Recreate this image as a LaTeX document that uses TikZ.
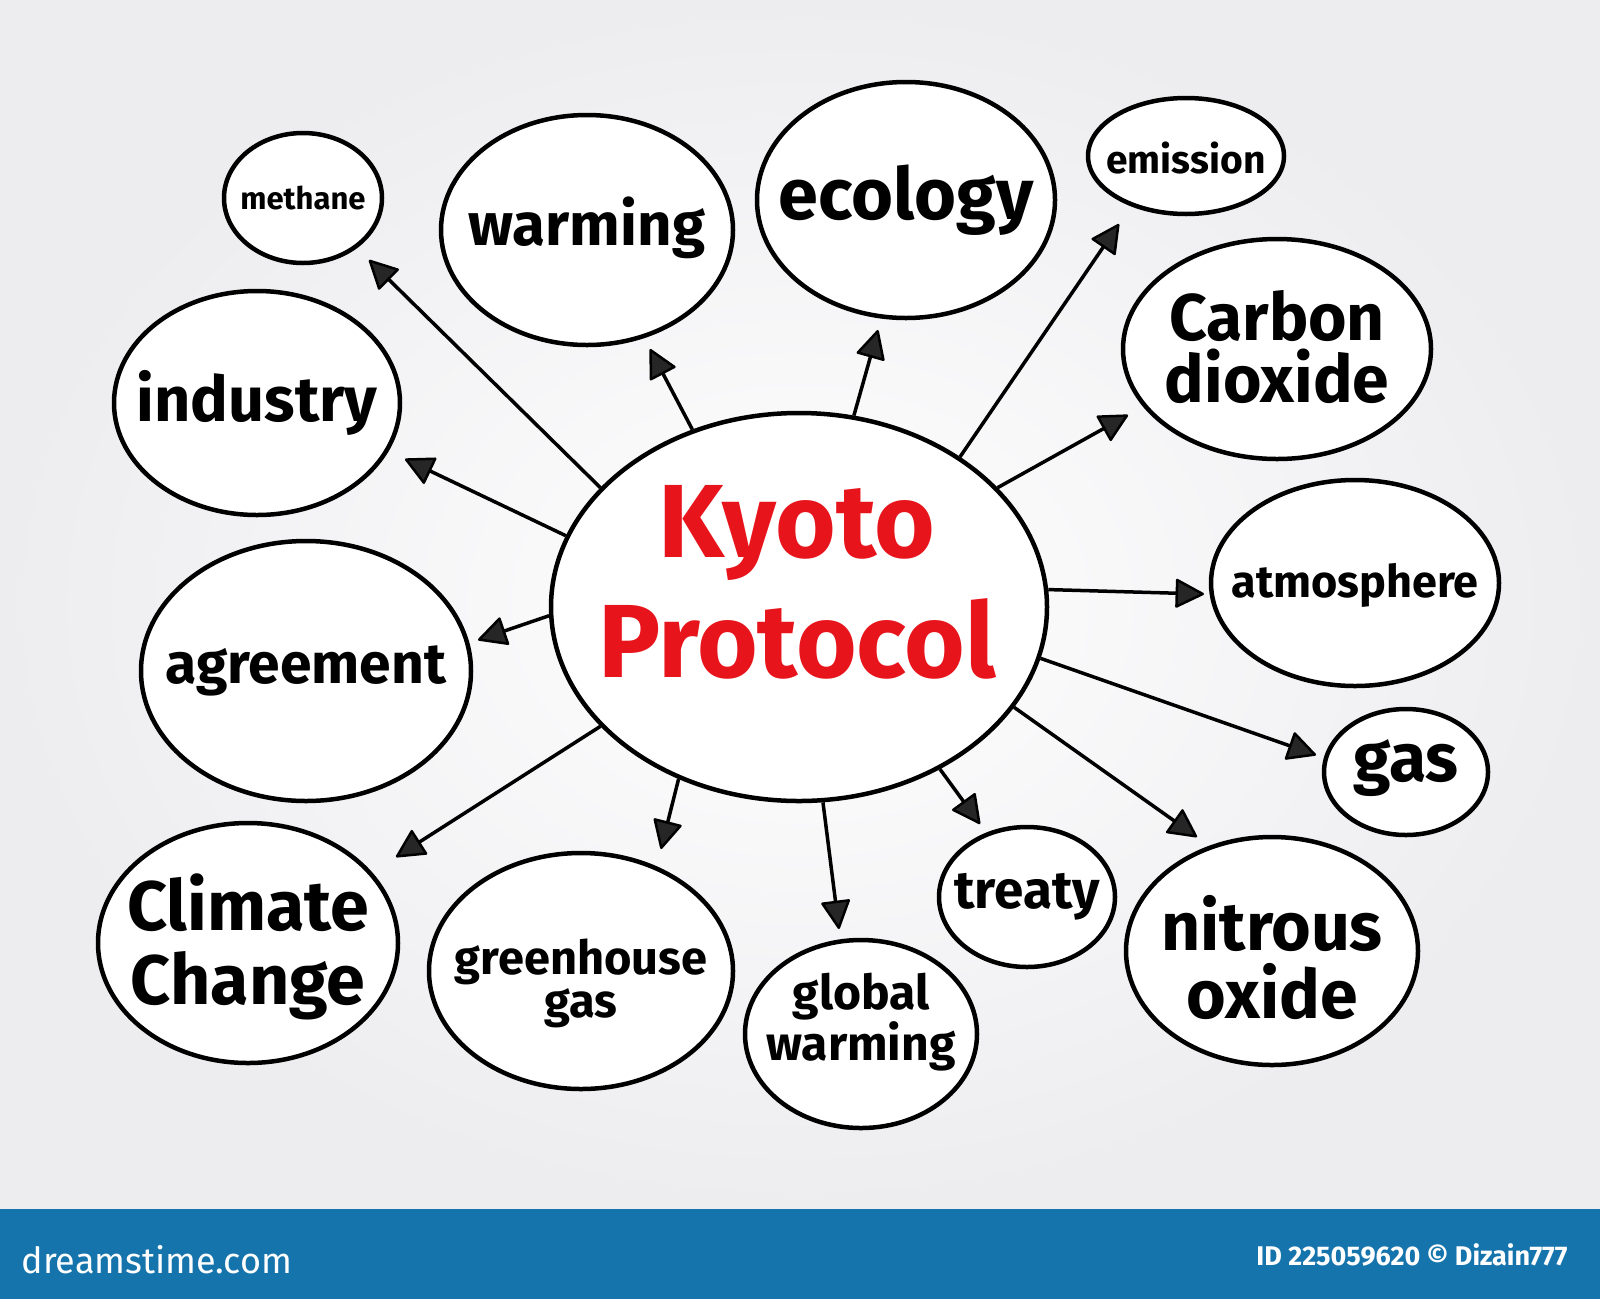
\documentclass[tikz,border=0pt]{standalone}
\usepackage{fontspec}
\setmainfont{Fira Sans}
\usetikzlibrary{shapes.geometric,arrows.meta}
\definecolor{kyred}{HTML}{E8141B}
\definecolor{barblue}{HTML}{1674AD}
\definecolor{bggray}{HTML}{EDEDF0}
\newcommand{\fsz}[2]{\fontsize{#1}{#2}\selectfont}
\begin{document}
\begin{tikzpicture}[x=1pt,y=-1pt,
  bubble/.style={ellipse, draw=black, line width=4.5pt, fill=white, inner sep=0pt},
  txt/.style={align=center, inner sep=0pt},
  arr/.style={line width=3.5pt, -{Triangle[length=30pt,width=30pt,fill=black!85,line width=2.5pt,round]}}]
\useasboundingbox (0,0) rectangle (1600,1299);
\shade[inner color=white, outer color=bggray] (0,0) rectangle (1600,1209);
\fill[barblue] (0,1209) rectangle (1600,1299);

% central node
\node[bubble, minimum width=496pt, minimum height=388pt] (kp) at (799,607) {};
\node[txt, text=kyred, font=\bfseries\fsz{104}{120}] (kptext) at (797,582) {Kyoto\\Protocol};

% outer bubbles
\node[bubble, minimum width=158pt, minimum height=130pt] (methane) at (303,198) {};
\node[bubble, minimum width=292pt, minimum height=230pt] (warming) at (587,230) {};
\node[bubble, minimum width=298pt, minimum height=236pt] (ecology) at (906,200) {};
\node[bubble, minimum width=196pt, minimum height=116pt] (emission) at (1186,156) {};
\node[bubble, minimum width=308pt, minimum height=220pt] (carbon) at (1277,349) {};
\node[bubble, minimum width=286pt, minimum height=224pt] (industry) at (257,403) {};
\node[bubble, minimum width=288pt, minimum height=206pt] (atmosphere) at (1355,583) {};
\node[bubble, minimum width=330pt, minimum height=260pt] (agreement) at (306,671) {};
\node[bubble, minimum width=164pt, minimum height=126pt] (gas) at (1406,772) {};
\node[bubble, minimum width=300pt, minimum height=240pt] (climate) at (248,943) {};
\node[bubble, minimum width=304pt, minimum height=236pt] (greenhouse) at (581,971) {};
\node[bubble, minimum width=232pt, minimum height=188pt] (global) at (861,1034) {};
\node[bubble, minimum width=176pt, minimum height=140pt] (treaty) at (1027,897) {};
\node[bubble, minimum width=292pt, minimum height=228pt] (nitrous) at (1272,951) {};

% texts
\node[txt, font=\bfseries\fsz{31}{36}] (methane-t) at (303,198) {methane};
\node[txt, font=\bfseries\fsz{60}{66}] (warming-t) at (587,228) {warming};
\node[txt, font=\bfseries\fsz{72}{80}] (ecology-t) at (906,200) {ecology};
\node[txt, font=\bfseries\fsz{39}{44}] (emission-t) at (1186,158) {emission};
\node[txt, font=\bfseries\fsz{66}{62}] (carbon-t) at (1277,347) {Carbon\\dioxide};
\node[txt, font=\bfseries\fsz{63}{70}] (industry-t) at (257,403) {industry};
\node[txt, font=\bfseries\fsz{45}{50}] (atmosphere-t) at (1355,585) {atmosphere};
\node[txt, font=\bfseries\fsz{57}{64}] (agreement-t) at (306,671) {agreement};
\node[txt, font=\bfseries\fsz{68}{74}] (gas-t) at (1406,768) {gas};
\node[txt, font=\bfseries\fsz{70}{74}] (climate-t) at (248,947) {Climate\\Change};
\node[txt, font=\bfseries\fsz{47}{43}] (greenhouse-t) at (581,983) {greenhouse\\gas};
\node[txt, font=\bfseries\fsz{48}{48}] (global-t) at (861,1022) {global\\warming};
\node[txt, font=\bfseries\fsz{53}{58}] (treaty-t) at (1027,897) {treaty};
\node[txt, font=\bfseries\fsz{68}{68}] (nitrous-t) at (1272,957) {nitrous\\oxide};

% arrow tips
\coordinate (tmethane) at (369,260);
\coordinate (tindustry) at (405,459);
\coordinate (tagreement) at (478,640);
\coordinate (tclimate) at (396,857);
\coordinate (tgreenhouse) at (661,849);
\coordinate (tglobal) at (839,929);
\coordinate (ttreaty) at (980,824);
\coordinate (tnitrous) at (1197,837);
\coordinate (tgas) at (1316,755);
\coordinate (tatmosphere) at (1204,594);
\coordinate (tcarbon) at (1128,415);
\coordinate (temission) at (1119,224);
\coordinate (tecology) at (878,330);
\coordinate (twarming) at (650,349);

\draw[arr] (kp.149) -- (tmethane);
\draw[arr] (kp.163) -- (tindustry);
\draw[arr] (kp.182) -- (tagreement);
\draw[arr] (kp.211) -- (tclimate);
\draw[arr] (kp.235) -- (tgreenhouse);
\draw[arr] (kp.277) -- (tglobal);
\draw[arr] (kp.311) -- (ttreaty);
\draw[arr] (kp.335) -- (tnitrous);
\draw[arr] (kp.348) -- (tgas);
\draw[arr] (kp.4) -- (tatmosphere);
\draw[arr] (kp.31) -- (tcarbon);
\draw[arr] (kp.43) -- (temission);
\draw[arr] (kp.74) -- (tecology);
\draw[arr] (kp.121) -- (twarming);

% bottom bar
\node[anchor=west, text=white, font=\fsz{36}{40}] (ds) at (18,1260) {dreamstime.com};
\node[anchor=east, text=white, font=\bfseries\fsz{27}{32}] (idtext) at (1571,1255) {ID 225059620 © Dizain777};
\end{tikzpicture}
\end{document}
